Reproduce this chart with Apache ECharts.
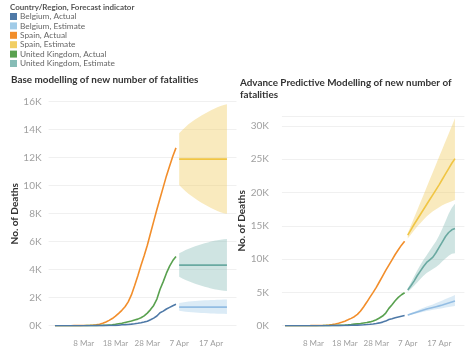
<!DOCTYPE html>
<html><head><meta charset="utf-8">
<script src="https://cdn.jsdelivr.net/npm/echarts@6/dist/echarts.min.js"></script>
<style>html,body{margin:0;padding:0;background:#fff}#c{width:474px;height:350px}</style>
</head><body><div id="c"></div>
<script>
// x values are days since 27 Feb 2020
const actualDays = [1,2,3,4,5,6,7,8,9,10,11,12,13,14,15,16,17,18,19,20,21,22,23,24,25,26,27,28,29,30,31,32,33,34,35,36,37,38,39];
const forecastDays = [40,41,42,43,44,45,46,47,48,49,50,51,52,53,54,55];
const tickDays = [10,20,30,40,50];
const tickLabels = ['8 Mar','18 Mar','28 Mar','7 Apr','17 Apr'];
const seriesNames = ['Belgium, Actual','Belgium, Estimate','Spain, Actual','Spain, Estimate','United Kingdom, Actual','United Kingdom, Estimate'];

const belgiumActual = [0,0,0,0,0,0,0,0,0,0,0,0,1,3,3,4,5,10,14,21,37,67,75,88,110,140,175,215,260,320,420,540,690,930,1040,1190,1310,1430,1530];
const spainActual = [0,0,0,0,0,1,2,3,5,10,17,28,40,60,110,170,260,380,510,680,880,1100,1350,1700,2200,2850,3550,4300,5000,5750,6600,7450,8300,9100,9900,10700,11400,12100,12700];
const ukActual = [0,0,0,0,0,0,0,0,0,1,2,3,5,8,10,20,35,55,70,100,140,180,230,280,330,400,470,570,700,900,1150,1450,1900,2600,3150,3750,4250,4650,4950];

// Base modelling forecasts
const spainBaseMid = [11900,11900,11900,11900,11900,11900,11900,11900,11900,11900,11900,11900,11900,11900,11900,11900];
const spainBaseHi = [13750,13980,14200,14400,14560,14720,14870,15010,15140,15270,15390,15500,15600,15690,15760,15810];
const spainBaseLo = [10050,9820,9600,9400,9240,9080,8930,8790,8660,8530,8410,8300,8200,8110,8040,7990];
const ukBaseMid = [4330,4330,4330,4330,4330,4330,4330,4330,4330,4330,4330,4330,4330,4330,4330,4330];
const ukBaseHi = [5170,5290,5400,5500,5590,5670,5750,5820,5890,5950,6010,6060,6100,6140,6170,6190];
const ukBaseLo = [3500,3380,3270,3170,3080,3000,2920,2850,2780,2720,2660,2610,2570,2530,2500,2480];
const beBaseMid = [1330,1330,1330,1330,1330,1330,1330,1330,1330,1330,1330,1330,1330,1330,1330,1330];
const beBaseHi = [1620,1660,1690,1720,1740,1760,1780,1800,1810,1820,1830,1840,1850,1860,1870,1880];
const beBaseLo = [1060,1030,1000,980,960,940,920,910,900,890,880,870,860,850,845,840];

// Advance predictive forecasts
const spainAdvMid = [13600,14400,15200,15950,16700,17450,18200,18950,19700,20450,21200,22000,22800,23600,24400,25100];
const spainAdvHi = [13900,15050,16200,17350,18500,19650,20800,21950,23100,24250,25400,26550,27700,28850,30000,31150];
const spainAdvLo = [13100,13700,14300,14900,15400,15900,16400,16800,17200,17500,17800,18100,18300,18500,18700,18900];
const ukAdvMid = [5360,6000,6700,7500,8200,8900,9500,9900,10300,11000,11800,12600,13400,14000,14400,14600];
const ukAdvHi = [5600,6500,7400,8300,9100,9900,10600,11300,12000,12700,13600,14600,15700,16800,17700,18300];
const ukAdvLo = [5100,5500,6000,6500,7000,7500,7900,8200,8500,8800,9200,9700,10100,10500,10800,10900];
const beAdvMid = [1600,1750,1900,2050,2200,2350,2500,2620,2740,2860,2980,3100,3250,3400,3550,3700];
const beAdvHi = [1700,1900,2100,2300,2500,2700,2900,3050,3200,3400,3600,3800,4000,4200,4400,4600];
const beAdvLo = [1500,1620,1740,1860,1980,2100,2200,2300,2400,2480,2560,2640,2720,2800,2880,2960];

const C = {
  beA:'#4e79a7', beE:'#a0cbe8', beLine:'#93bde3', beBand:'rgba(160,203,232,0.38)',
  esA:'#f28e2b', esE:'#f1ce63', esLine:'#f0c544', esBand:'rgba(241,206,99,0.42)',
  ukA:'#59a14f', ukE:'#86bcb6', ukLine:'#6aa9a1', ukBand:'rgba(134,188,182,0.4)'
};
const FONT = 'Lato, "Open Sans", sans-serif';

function pairs(xs, ys){ return xs.map((x,i)=>[x, ys[i]]); }

function line(name, idx, xs, ys, color, lineColor, w){
  return {type:'line', name, xAxisIndex:idx, yAxisIndex:idx, data:pairs(xs,ys),
    showSymbol:false, symbol:'none', smooth:false, z:3,
    itemStyle:{color}, lineStyle:{color:lineColor||color, width:w||1.6}};
}
function band(idx, lo, hi, fill){
  const data = forecastDays.map((d,i)=>[d, lo[i], hi[i]]);
  return {type:'custom', name:'_band', xAxisIndex:idx, yAxisIndex:idx, data, silent:true, z:1, clip:true,
    encode:{x:0, y:[1,2]},
    renderItem:function(params, api){
      if(params.dataIndex !== 0) return null;
      const top = data.map(r=>api.coord([r[0], r[2]]));
      const bot = data.map(r=>api.coord([r[0], r[1]])).reverse();
      return {type:'polygon', shape:{points: top.concat(bot)}, style:{fill:fill}};
    }};
}

const xAxisBase = {
  type:'value', axisLine:{show:false}, axisTick:{show:false}, splitLine:{show:false},
  axisLabel:{customValues:tickDays, formatter:v=>tickLabels[tickDays.indexOf(v)]||'', color:'#a0a0a0', fontSize:8, fontFamily:FONT, margin:14}
};
const yName = {name:'No. of Deaths', nameLocation:'middle', nameTextStyle:{color:'#333', fontSize:10, fontWeight:'bold', fontFamily:FONT}};

const series = [
  band(0,spainBaseLo,spainBaseHi,C.esBand),
  band(0,ukBaseLo,ukBaseHi,C.ukBand),
  band(0,beBaseLo,beBaseHi,C.beBand),
  band(1,spainAdvLo,spainAdvHi,C.esBand),
  band(1,ukAdvLo,ukAdvHi,C.ukBand),
  band(1,beAdvLo,beAdvHi,C.beBand),
];
[0,1].forEach(i=>{
  series.push(line(seriesNames[2], i, actualDays, spainActual, C.esA));
  series.push(line(seriesNames[4], i, actualDays, ukActual, C.ukA));
  series.push(line(seriesNames[0], i, actualDays, belgiumActual, C.beA));
});
series.push(line(seriesNames[3],0,forecastDays,spainBaseMid,C.esE,C.esLine));
series.push(line(seriesNames[5],0,forecastDays,ukBaseMid,C.ukE,C.ukLine));
series.push(line(seriesNames[1],0,forecastDays,beBaseMid,C.beE,C.beLine));
series.push(line(seriesNames[3],1,forecastDays,spainAdvMid,C.esE,C.esLine));
series.push(line(seriesNames[5],1,forecastDays,ukAdvMid,C.ukE,C.ukLine));
series.push(line(seriesNames[1],1,forecastDays,beAdvMid,C.beE,C.beLine));

const chart = echarts.init(document.getElementById('c'), null, {renderer:'canvas'});
chart.setOption({
  animation:false,
  backgroundColor:'#fff',
  textStyle:{fontFamily:FONT},
  title:[
    {text:'Base modelling of new number of fatalities', left:11, top:75, padding:0,
     textStyle:{fontSize:9.9, fontWeight:'bold', color:'#333', fontFamily:FONT}},
    {text:'Advance Predictive Modelling of new number of\nfatalities', left:240, top:76, padding:0,
     textStyle:{fontSize:9.9, fontWeight:'bold', color:'#333', lineHeight:12.7, fontFamily:FONT}}
  ],
  graphic:[{type:'text', left:10, top:3, style:{text:'Country/Region, Forecast indicator', fill:'#555', font:'bold 8px '+FONT}}],
  legend:{orient:'vertical', left:10, top:12.5, padding:0, itemWidth:7, itemHeight:7, itemGap:1.4, icon:'rect',
    data:seriesNames, selectedMode:false,
    textStyle:{fontSize:8.3, color:'#666', lineHeight:8, padding:[0,0,0,-2], fontFamily:FONT}},
  grid:[
    {left:48.6, top:101.7, width:187.9, height:224},
    {left:281.9, top:116, width:182.5, height:209.7}
  ],
  xAxis:[
    Object.assign({}, xAxisBase, {gridIndex:0, min:-1, max:58}),
    Object.assign({}, xAxisBase, {gridIndex:1, min:0, max:58})
  ],
  yAxis:[
    Object.assign({gridIndex:0, type:'value', min:0, max:16000, interval:2000, nameGap:29,
      axisLine:{show:false}, axisTick:{show:false},
      splitLine:{lineStyle:{color:'#f0f0f0'}},
      axisLabel:{formatter:v=>(v/1000)+'K', color:'#a0a0a0', fontSize:10, margin:7, fontFamily:FONT}}, yName),
    Object.assign({gridIndex:1, type:'value', min:0, max:31500, interval:5000, nameGap:32,
      axisLine:{show:false}, axisTick:{show:false},
      splitLine:{lineStyle:{color:'#f0f0f0'}},
      axisLabel:{formatter:v=>(v%5000===0)?(v/1000)+'K':'', color:'#a0a0a0', fontSize:10, margin:13, fontFamily:FONT}}, yName)
  ],
  series
});
</script></body></html>
